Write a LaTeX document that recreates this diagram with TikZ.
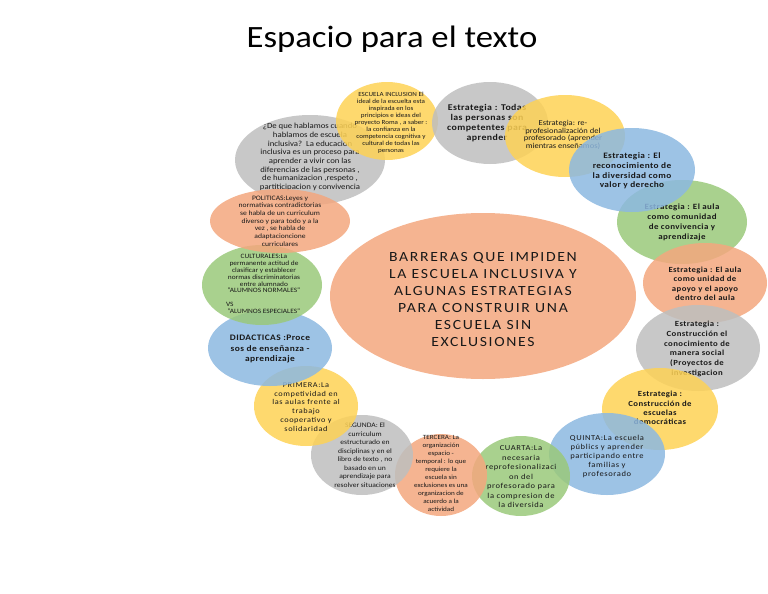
\documentclass[tikz,border=0pt]{standalone}
\usepackage{fontspec}
\setmainfont{Carlito}[FakeStretch=1.12]
\usetikzlibrary{shapes.geometric}
\definecolor{cgray}{RGB}{190,190,190}
\definecolor{cyellow}{RGB}{254,210,85}
\definecolor{cblue}{RGB}{140,184,225}
\definecolor{cgreen}{RGB}{154,201,122}
\definecolor{corange}{RGB}{243,167,126}
\definecolor{ctext}{RGB}{25,25,25}
\tikzset{
  bgray/.style={fill=cgray, fill opacity=0.85},
  byellow/.style={fill=cyellow, fill opacity=0.85},
  bblue/.style={fill=cblue, fill opacity=0.85},
  bgreen/.style={fill=cgreen, fill opacity=0.85},
  borange/.style={fill=corange, fill opacity=0.85},
  txt/.style={align=center, inner sep=0pt, text=ctext},
  fs/.style n args={2}{font=\fontsize{#1}{#2}\selectfont},
  fsb/.style n args={2}{font=\fontsize{#1}{#2}\selectfont\bfseries\addfontfeatures{LetterSpace=5}},
  fsl/.style n args={2}{font=\fontsize{#1}{#2}\selectfont\addfontfeatures{LetterSpace=8}},
}
\begin{document}
\begin{tikzpicture}[x=1pt,y=-1pt]
\useasboundingbox (0,0) rectangle (768,594);
\node[inner sep=0pt, font=\fontsize{31}{36}\selectfont] (title) at (392,39) {Espacio para el texto};

% 1 gray question
\fill[bgray] (310,160) ellipse [x radius=75, y radius=45];
\node[txt, fs={7.8}{8.7}] (t1) at (310,157) {¿De que hablamos cuando\\ hablamos de escuela\\ inclusiva?\ \ La educacion\\ inclusiva es un proceso para\\ aprender a vivir con las\\ diferencias de las personas ,\\ de humanizacion ,respeto ,\\ partiticipacion y convivencia};
% 2 yellow escuela inclusion
\fill[byellow] (387,121) ellipse [x radius=51, y radius=39];
\node[txt, fs={6.3}{7}] (t2) at (391,123) {ESCUELA INCLUSION El\\ ideal de la escuelta esta\\ inspirada en los\\ principios e ideas del\\ proyecto Roma , a saber :\\ la confianza en la\\ competencia cognitiva y\\ cultural de todas las\\ personas};
% 3 gray todas
\fill[bgray] (490,123) ellipse [x radius=58, y radius=41];
\node[txt, fsb={8.8}{10}] (t3) at (487,123) {Estrategia : Todas\\ las personas son\\ competentes para\\ aprender};
% 4 yellow re-prof
\fill[byellow] (565,136) ellipse [x radius=60, y radius=41];
\node[txt, fs={7.6}{7.4}] (t4) at (563,135) {Estrategia: re-\\ profesionalización del\\ profesorado (aprender\\ mientras enseñamos)};
% 6 green comunidad (drawn beneath the blue one)
\fill[bgreen] (682,222) ellipse [x radius=65, y radius=42];
\node[txt, fsb={8}{10}] (t6) at (682,222) {Estrategia : El aula\\ como comunidad\\ de convivencia y\\ aprendizaje};
% 5 blue reconocimiento
\fill[bblue] (632,170) ellipse [x radius=63, y radius=42];
\node[txt, fsb={8.3}{9.7}] (t5) at (632,171) {Estrategia : El\\ reconocimiento de\\ la diversidad como\\ valor y derecho};
% 7 orange apoyo
\fill[borange] (705,283) ellipse [x radius=62, y radius=40];
\node[txt, fsb={7.8}{9.5}] (t7) at (705,284) {Estrategia : El aula\\ como unidad de\\ apoyo y el apoyo\\ dentro del aula};
% 8 gray construccion
\fill[bgray] (698,348) ellipse [x radius=62, y radius=43];
\node[txt, fsb={7.8}{9.7}] (t8) at (697,349) {Estrategia :\\ Construcción el\\ conocimiento de\\ manera social\\ (Proyectos de\\ investigacion};
% 9 yellow democraticas
\fill[byellow] (660,409) ellipse [x radius=58, y radius=41];
\node[txt, fsb={7.8}{9.3}] (t9) at (660,408) {Estrategia :\\ Construcción de\\ escuelas\\ democráticas};
% 10 blue quinta
\fill[bblue] (607,454) ellipse [x radius=58, y radius=41];
\node[txt, fsl={7.6}{9}] (t10) at (607,456) {QUINTA:La escuela\\ públics y aprender\\ participando entre\\ familias y\\ profesorado};
% 11 green cuarta
\fill[bgreen] (521,476) ellipse [x radius=49, y radius=40];
\node[txt, fsl={7.6}{9.5}] (t11) at (521,477) {CUARTA:La\\ necesaria\\ reprofesionalizaci\\ on del\\ profesorado para\\ la compresion de\\ la diversida};
% 12 orange tercera
\fill[borange] (441,475) ellipse [x radius=46, y radius=41];
\node[txt, fs={6.4}{8}] (t12) at (441,473) {TERCERA: La\\ organización\\ espacio -\\ temporal : lo que\\ requiere la\\ escuela sin\\ exclusiones es una\\ organizacion de\\ acuerdo a la\\ actividad};
% 13 gray segunda
\fill[bgray] (362,455) ellipse [x radius=51, y radius=40];
\node[txt, fs={6.8}{8.5}] (t13) at (365,455) {SEGUNDA: El\\ curriculum\\ estructurado en\\ disciplinas y en el\\ libro de texto , no\\ basado en un\\ aprendizaje para\\ resolver situaciones};
% 14 yellow primera
\fill[byellow] (306,406) ellipse [x radius=52, y radius=40];
\node[txt, fsl={7.4}{8.9}] (t14) at (306,407) {PRIMERA:La\\ competividad en\\ las aulas frente al\\ trabajo\\ cooperativo y\\ solidaridad};
% 15 blue didacticas
\fill[bblue] (270,348) ellipse [x radius=62, y radius=38];
\node[txt, fsb={8.4}{10.5}] (t15) at (270,349) {DIDACTICAS :Proce\\ sos de enseñanza -\\ aprendizaje};
% 16 green culturales
\fill[bgreen] (262,285) ellipse [x radius=60, y radius=40];
\node[txt, fs={6.6}{6.8}] (t16) at (264,284) {CULTURALES:La\\ permanente actitud de\\ clasificar y establecer\\ normas discriminatorias\\ entre alumnado\\ "ALUMNOS NORMALES"\\[6.8pt] \makebox[76pt][l]{VS}\\ "ALUMNOS ESPECIALES"};
% 17 orange politicas
\fill[borange] (280,221) ellipse [x radius=70, y radius=32];
\node[txt, fs={6.8}{7.7}] (t17) at (280,221) {POLITICAS:Leyes y\\ normativas contradictorias\\ se habla de un curriculum\\ diverso y para todo y a la\\ vez , se habla de\\ adaptacioncione\\ curriculares};
% 18 central
\fill[borange] (483,296) ellipse [x radius=153, y radius=83];
\node[txt, font=\fontsize{14}{17}\selectfont\addfontfeatures{LetterSpace=12}] (t18) at (483,300) {BARRERAS QUE IMPIDEN\\ LA ESCUELA INCLUSIVA Y\\ ALGUNAS ESTRATEGIAS\\ PARA CONSTRUIR UNA\\ ESCUELA SIN\\ EXCLUSIONES};
\end{tikzpicture}
\end{document}
